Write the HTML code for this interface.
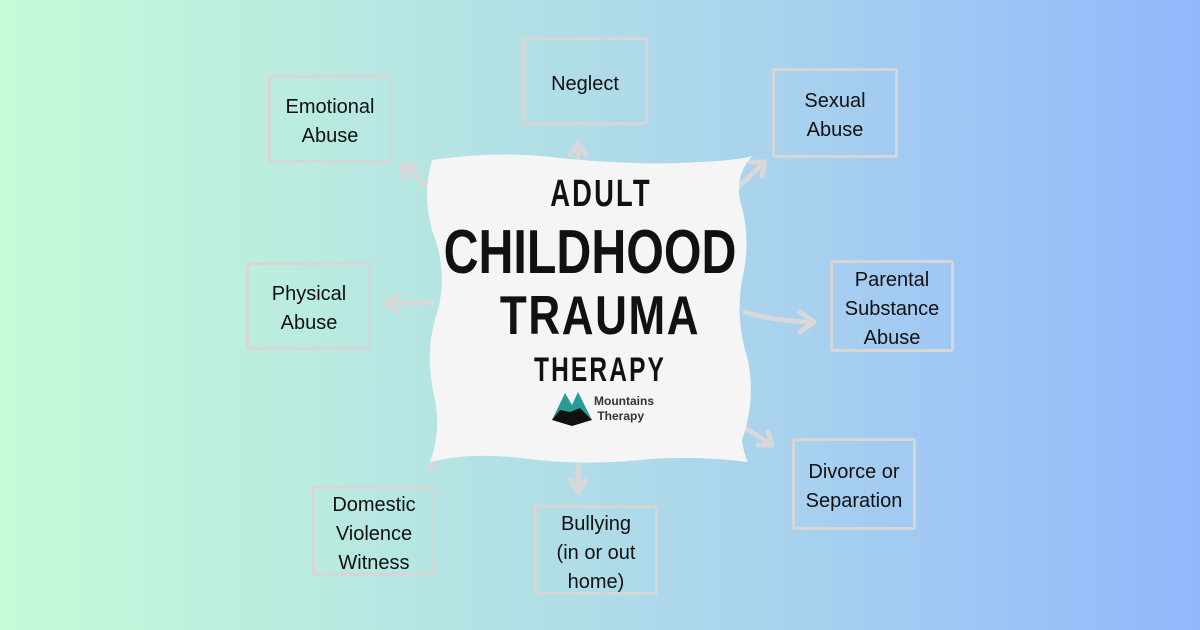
<!DOCTYPE html>
<html><head><meta charset="utf-8"><style>
body{margin:0;width:1200px;height:630px;overflow:hidden;background:linear-gradient(90deg,#c6fbd8 0%,#b3e2e4 40%,#a9d2ee 65%,#93b7fc 100%);font-family:"Liberation Sans",sans-serif;position:relative}
.b{position:absolute;border:3px solid #d6d6d6;border-radius:3px;box-sizing:border-box;display:flex;align-items:center;justify-content:center;text-align:center;font-size:20px;line-height:29px;color:#111;padding-top:6px}
.t{position:absolute;width:0;font-weight:bold;color:#111;white-space:nowrap}
.t span{position:absolute;left:0;top:0;display:inline-block}
</style></head><body>
<svg width="1200" height="630" style="position:absolute;left:0;top:0">
<g stroke="#d8d8d8" stroke-width="5" fill="none" stroke-linecap="round" stroke-linejoin="round">
<path d="M432 190 L402 165 M402 165 L404 180 M402 165 L417 167"/>
<path d="M578 172 L578 145 M570 155 L578 143 L586 155"/>
<path d="M735 190 L765 162 M750 162 L765 162 L762 176"/>
<path d="M432 303 L388 303 M398 295 L386 303 L398 311"/>
<path d="M745 312 Q780 322 812 322 M800 312 L814 322 L800 332"/>
<path d="M740 425 L772 445 M758 445 L772 445 L768 432"/>
<path d="M578 462 L578 490 M570 480 L578 492 L586 480"/>
<path d="M440 455 L428 470"/>
</g>
<path d="M432 160 Q500 150 560 158 Q640 166 700 162 Q740 160 752 156 Q735 175 740 200 Q752 240 742 280 Q735 320 748 360 Q756 400 742 440 Q744 455 748 462 Q690 455 640 460 Q580 466 520 458 Q470 452 430 462 Q442 430 434 395 Q424 350 438 310 Q448 270 432 230 Q422 195 432 160Z" fill="#f5f5f5"/>
<polygon points="552,420 565,393 572,405 578,392 592,420" fill="#2a9c98"/>
<polygon points="552,420 560,410 570,412 580,408 592,420 572,426" fill="#111"/>
</svg>
<div class="b" style="left:268px;top:75px;width:124px;height:88px">Emotional<br>Abuse</div>
<div class="b" style="left:522px;top:37px;width:126px;height:88px;align-items:flex-start;padding-top:30px">Neglect</div>
<div class="b" style="left:772px;top:68px;width:126px;height:90px">Sexual<br>Abuse</div>
<div class="b" style="left:246px;top:262px;width:126px;height:88px">Physical<br>Abuse</div>
<div class="b" style="left:830px;top:260px;width:124px;height:92px">Parental<br>Substance<br>Abuse</div>
<div class="b" style="left:312px;top:486px;width:124px;height:90px">Domestic<br>Violence<br>Witness</div>
<div class="b" style="left:534px;top:505px;width:124px;height:90px">Bullying<br>(in or out<br>home)</div>
<div class="b" style="left:792px;top:438px;width:124px;height:92px">Divorce or<br>Separation</div>
<div class="t" style="left:601px;top:172px;font-size:38px;line-height:44px"><span style="transform:translateX(-50%) scaleX(0.72);letter-spacing:3px">ADULT</span></div>
<div class="t" style="left:590px;top:222px;font-size:62px;line-height:62px"><span style="transform:translateX(-50%) scaleX(0.78)">CHILDHOOD</span></div>
<div class="t" style="left:600px;top:285px;font-size:55px;line-height:60px"><span style="transform:translateX(-50%) scaleX(0.8);letter-spacing:2px">TRAUMA</span></div>
<div class="t" style="left:600px;top:350px;font-size:34px;line-height:40px"><span style="transform:translateX(-50%) scaleX(0.72);letter-spacing:3px">THERAPY</span></div>
<div style="position:absolute;left:594px;top:394px;font-size:12px;line-height:15px;font-weight:bold;color:#333">Mountains<br>&nbsp;Therapy</div>
</body></html>
